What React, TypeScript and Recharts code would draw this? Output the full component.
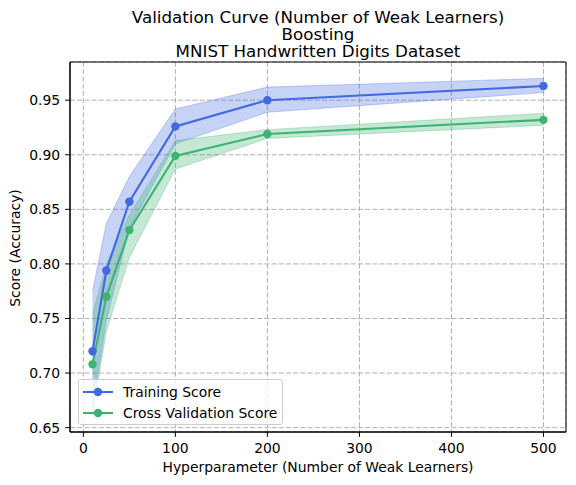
import {
  ComposedChart,
  Line,
  Area,
  XAxis,
  YAxis,
  CartesianGrid,
  Legend,
  ReferenceArea,
} from "recharts";

const learners = [10, 25, 50, 100, 200, 500];

const trainScore = [0.72, 0.794, 0.857, 0.926, 0.95, 0.963];
const trainLow = [0.668, 0.748, 0.833, 0.91, 0.939, 0.957];
const trainHigh = [0.775, 0.837, 0.88, 0.942, 0.962, 0.97];

const cvScore = [0.708, 0.77, 0.831, 0.899, 0.919, 0.932];
const cvLow = [0.662, 0.738, 0.806, 0.887, 0.915, 0.927];
const cvHigh = [0.754, 0.8, 0.845, 0.913, 0.923, 0.938];

const xDomain = [-14.5, 524.5];
const yDomain = [0.646, 0.985];
const xTicks = [0, 100, 200, 300, 400, 500];
const yTicks = [0.65, 0.7, 0.75, 0.8, 0.85, 0.9, 0.95];

const seriesNames = ["Training Score", "Cross Validation Score"];
const titleLines = [
  "Validation Curve (Number of Weak Learners)",
  "Boosting",
  "MNIST Handwritten Digits Dataset",
];

const BLUE = "#4169E1";
const GREEN = "#3CB371";
const FONT = "'DejaVu Sans', sans-serif";

const data = learners.map((x, i) => ({
  x,
  train: trainScore[i],
  cv: cvScore[i],
  trainBand: [trainLow[i], trainHigh[i]],
  cvBand: [cvLow[i], cvHigh[i]],
}));

function LegendBox({ payload }: any) {
  const items = (payload || [])
    .filter((p: any) => p.type !== "none")
    .sort((a: any, b: any) => seriesNames.indexOf(a.value) - seriesNames.indexOf(b.value));
  return (
    <div
      style={{
        position: "relative",
        width: 205,
        height: 46,
        boxSizing: "border-box",
        border: "1px solid #cccccc",
        borderRadius: 3,
        background: "rgba(255,255,255,0.8)",
        fontFamily: FONT,
        fontSize: 13.9,
        color: "#000",
      }}
    >
      {items.map((p: any, i: number) => (
        <div
          key={p.value}
          style={{
            position: "absolute",
            left: 0,
            top: 2 + i * 21,
            height: 20,
            display: "flex",
            alignItems: "center",
          }}
        >
          <svg width={44} height={20} style={{ display: "block" }}>
            <line x1={4} x2={34} y1={10} y2={10} stroke={p.color} strokeWidth={2.1} />
            <circle cx={19} cy={10} r={4.2} fill={p.color} />
          </svg>
          <span style={{ whiteSpace: "nowrap", lineHeight: "20px" }}>{p.value}</span>
        </div>
      ))}
    </div>
  );
}

export default function App() {
  const tickStyle = { fontSize: 13.9, fill: "#000", fontFamily: FONT };
  return (
    <div
      style={{
        position: "absolute",
        left: 0,
        top: 0,
        width: 576,
        height: 485,
        background: "#fff",
      }}
    >
      <ComposedChart
        width={576}
        height={485}
        data={data}
        margin={{ top: 62, right: 10, bottom: 0, left: 0 }}
      >
        <CartesianGrid stroke="#b0b0b0" strokeDasharray="5 2.2" strokeWidth={1} />
        <XAxis
          dataKey="x"
          type="number"
          domain={xDomain}
          ticks={xTicks}
          allowDataOverflow
          height={53}
          tickSize={4.9}
          tickMargin={6.5}
          tick={tickStyle}
          stroke="#000"
          label={{
            value: "Hyperparameter (Number of Weak Learners)",
            position: "insideBottom",
            offset: 13.5,
            fill: "#000",
            fontSize: 13.9,
            fontFamily: FONT,
          }}
        />
        <YAxis
          type="number"
          domain={yDomain}
          ticks={yTicks}
          allowDataOverflow
          width={70}
          tickSize={4.9}
          tickMargin={5}
          tick={tickStyle}
          tickFormatter={(v: number) => v.toFixed(2)}
          stroke="#000"
          label={{
            content: ({ viewBox }: any) => {
              const cx = viewBox.x + 20.3;
              const cy = viewBox.y + viewBox.height / 2 + 1;
              return (
                <text
                  x={cx}
                  y={cy}
                  transform={`rotate(-90 ${cx} ${cy})`}
                  textAnchor="middle"
                  fill="#000"
                  fontSize={13.9}
                  fontFamily={FONT}
                >
                  Score (Accuracy)
                </text>
              );
            },
          }}
        />
        <Area
          type="linear"
          dataKey="trainBand"
          fill={BLUE}
          fillOpacity={0.3}
          stroke={BLUE}
          strokeOpacity={0.3}
          strokeWidth={1}
          legendType="none"
          isAnimationActive={false}
          activeDot={false}
        />
        <Area
          type="linear"
          dataKey="cvBand"
          fill={GREEN}
          fillOpacity={0.3}
          stroke={GREEN}
          strokeOpacity={0.3}
          strokeWidth={1}
          legendType="none"
          isAnimationActive={false}
          activeDot={false}
        />
        <Line
          type="linear"
          dataKey="train"
          name={seriesNames[0]}
          stroke={BLUE}
          strokeWidth={2.1}
          dot={{ r: 4.2, fill: BLUE, stroke: BLUE, strokeWidth: 0 }}
          activeDot={false}
          isAnimationActive={false}
        />
        <Line
          type="linear"
          dataKey="cv"
          name={seriesNames[1]}
          stroke={GREEN}
          strokeWidth={2.1}
          dot={{ r: 4.2, fill: GREEN, stroke: GREEN, strokeWidth: 0 }}
          activeDot={false}
          isAnimationActive={false}
        />
        {/* axes frame (matplotlib spines) */}
        <ReferenceArea
          x1={xDomain[0]}
          x2={xDomain[1]}
          y1={yDomain[0]}
          y2={yDomain[1]}
          fill="none"
          stroke="#000"
          strokeWidth={1}
          ifOverflow="visible"
        />
        <Legend
          layout="vertical"
          align="center"
          verticalAlign="middle"
          content={LegendBox}
          wrapperStyle={{ left: 78, top: 379, width: 205, height: 46 }}
        />
      </ComposedChart>
      <svg
        width={576}
        height={62}
        style={{ position: "absolute", left: 0, top: 0, pointerEvents: "none" }}
      >
        {titleLines.map((t, i) => (
          <text
            key={t}
            x={318}
            y={22.7 + i * 17.3}
            textAnchor="middle"
            fill="#000"
            fontSize={16.7}
            fontFamily={FONT}
          >
            {t}
          </text>
        ))}
      </svg>
    </div>
  );
}
